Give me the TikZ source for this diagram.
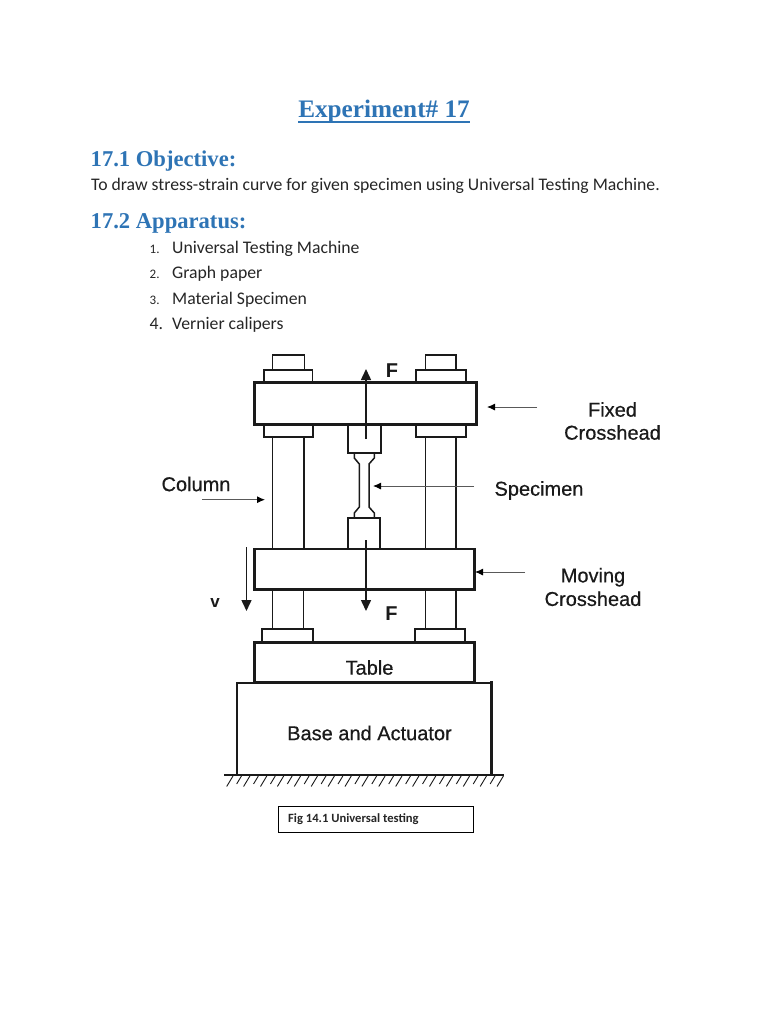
\documentclass[tikz,border=0pt]{standalone}
\usepackage{fontspec}
\setmainfont{Carlito}
\newfontfamily\headfont{Liberation Serif}
\newfontfamily\labelfont[FakeBold=0.5]{Liberation Sans}
\newfontfamily\labelbold{Liberation Sans}
\usetikzlibrary{arrows.meta}
\definecolor{headblue}{HTML}{2E74B5}
\definecolor{inkc}{HTML}{1A1A1A}
\newcommand\partbox[6]{%
  \pgfmathsetmacro\pw{#4-#2}\pgfmathsetmacro\ph{#5-#3}%
  \pgfmathsetmacro\pcx{(#4+#2)/2}\pgfmathsetmacro\pcy{(#5+#3)/2}%
  \node[part,#6,minimum width=\pw pt,minimum height=\ph pt] (#1) at (\pcx,\pcy) {};}
\tikzset{
  part/.style={draw=inkc,fill=white,inner sep=0pt,outer sep=0pt},
  heavy/.style={line width=3pt},
  medium/.style={line width=2.1pt},
  thin part/.style={line width=1.3pt},
  base part/.style={line width=1.9pt},
  edge heavy/.style={draw=inkc,line width=3pt,line cap=rect},
  column line/.style={draw=inkc,line width=1.3pt},
  pointer/.style={draw=black!65,line width=0.9pt,-{Latex[length=8pt,width=7pt,black]}},
  force/.style={draw=inkc,line width=1.5pt,-{Triangle[length=11pt,width=10pt,inkc]}},
  title text/.style={anchor=base,inner sep=0pt,text=headblue,font=\headfont\bfseries\fontsize{25.2}{28}\selectfont},
  head text/.style={anchor=base west,inner sep=0pt,text=headblue,font=\headfont\bfseries\fontsize{22.6}{26}\selectfont},
  body text/.style={anchor=base west,inner sep=0pt,text=black!85,font=\fontsize{17.7}{21}\selectfont},
  num text/.style={anchor=base west,inner sep=0pt,text=black!85,font=\fontsize{13}{16}\selectfont},
  mach label/.style={inner sep=0pt,align=center,text=inkc,font=\labelfont\fontsize{20}{23}\selectfont},
  force label/.style={inner sep=0pt,text=inkc,font=\labelbold\bfseries\fontsize{20}{22}\selectfont},
}
\begin{document}
\begin{tikzpicture}[x=1pt,y=-1pt]
\useasboundingbox[fill=white] (0,0) rectangle (768,1024);
% texts
\node[title text] (title) at (384,118) {Experiment\# 17};
\draw[headblue,line width=1.6pt] ([yshift=-4pt]title.base west) -- ([yshift=-4pt]title.base east);
\node[head text] (h1) at (90.5,167) {17.1 Objective:};
\node[body text] (obj) at (91,191) {To draw stress-strain curve for given specimen using Universal Testing Machine.};
\node[head text] (h2) at (90.5,229) {17.2 Apparatus:};
\node[num text] (n1) at (149.5,253) {1.};
\node[body text] (i1) at (172,253) {Universal Testing Machine};
\node[num text] (n2) at (149.5,278) {2.};
\node[body text] (i2) at (172,278) {Graph paper};
\node[num text] (n3) at (149.5,304) {3.};
\node[body text] (i3) at (172,304) {Material Specimen};
\node[body text] (n4) at (149.5,329) {4.};
\node[body text] (i4) at (172,329) {Vernier calipers};
% columns
\draw[column line] (272.7,436) -- (272.7,549) (304,436) -- (304,549) (425.3,436) -- (425.3,549) (456,436) -- (456,549);
\draw[column line] (272.7,589) -- (272.7,629) (303.3,589) -- (303.3,629) (425.3,589) -- (425.3,629) (456,589) -- (456,629);
% nuts
\partbox{nutTL}{272.7}{355}{304.3}{370}{thin part}
\partbox{collarTL}{264}{370}{312.7}{382.7}{thin part}
\partbox{nutTR}{425.3}{355}{456}{370}{thin part}
\partbox{collarTR}{416}{370}{466}{382.7}{medium}
\partbox{collarBL}{264}{424}{312.7}{436.7}{medium}
\partbox{collarBR}{416}{424}{466}{436.7}{medium}
% specimen
\draw[inkc,line width=1.5pt] (354.3,453) -- (354.3,458) -- (359.3,464) -- (359.3,507) -- (354.3,513) -- (354.3,518.5)
  (374.3,453) -- (374.3,458) -- (369,464) -- (369,507) -- (374.3,513) -- (374.3,518.5);
% grips
\partbox{gripU}{347.7}{424}{381}{453.3}{medium}
\partbox{gripL}{347.7}{518.3}{380.3}{549}{medium}
% crossheads
\partbox{fixedCH}{254}{382.7}{476}{424}{heavy}
\draw[inkc,line width=2.1pt] (gripU.north west) -- (gripU.south west) -- (gripU.south east) -- (gripU.north east);
\partbox{movingCH}{254}{549.3}{474.5}{589.3}{medium}
\draw[edge heavy] (movingCH.north west) -- (movingCH.south west) -- (movingCH.south east) -- (movingCH.north east);
\partbox{tableP}{254}{642}{474.7}{682.7}{heavy}
\partbox{collarLL}{262.3}{629}{312.7}{642}{medium}
\partbox{collarLR}{415}{629}{465}{642}{medium}
\partbox{baseP}{236.7}{682.7}{491.3}{774.7}{base part}
\draw[edge heavy] (baseP.north east) -- (baseP.south east);
% ground
\coordinate (gL) at (224,775); \coordinate (gR) at (504,775);
\draw[inkc,line width=1.6pt] (gL) -- (gR);
\foreach \k in {0,...,32}{
  \pgfmathsetmacro\gx{233+\k*8.45}
  \pgfmathsetmacro\gy{mod(\k,2)==0 ? 786.5 : 784}
  \pgfmathsetmacro\gz{\gx-(\gy-776)*0.6}
  \draw[inkc,line width=0.9pt] (\gx,776) -- (\gz,\gy);
}
% forces
\coordinate (fUp0) at (366,439); \coordinate (fUp1) at (366,369);
\coordinate (fDn0) at (366,540); \coordinate (fDn1) at (366,611);
\coordinate (v0) at (246.5,547); \coordinate (v1) at (246.5,611);
\draw[force] (fUp0) -- (fUp1);
\draw[force] (fDn0) -- (fDn1);
\draw[force] (v0) -- (v1);
\node[force label] (F1) at (392,371) {F};
\node[force label] (F2) at (391.5,614) {F};
\node[force label,font=\labelbold\bfseries\fontsize{17}{20}\selectfont] (vl) at (215,603) {v};
% labels
\node[mach label] (lFixed) at (612.5,421) {Fixed\\[0pt]Crosshead};
\node[mach label] (lMoving) at (593,587) {Moving\\[0.5pt]Crosshead};
\node[mach label] (lColumn) at (196,484) {Column};
\node[mach label] (lSpec) at (539,490.5) {Specimen};
\node[mach label] (lTable) at (369.5,667.5) {Table};
\node[mach label] (lBase) at (369.5,733) {Base and Actuator};
% pointers
\coordinate (pF) at (537,407); \coordinate (pF1) at (487,407);
\coordinate (pS) at (474,486); \coordinate (pS1) at (373,486);
\coordinate (pC) at (202,499.7); \coordinate (pC1) at (265,499.7);
\coordinate (pM) at (525,572); \coordinate (pM1) at (475,572);
\draw[pointer] (pF) -- (pF1);
\draw[pointer] (pS) -- (pS1);
\draw[pointer] (pC) -- (pC1);
\draw[pointer] (pM) -- (pM1);
% caption
\node[draw=black,line width=0.8pt,minimum width=194.6pt,minimum height=26pt,inner sep=0pt,outer sep=0pt] (figbox) at (376,819) {};
\node[anchor=base west,inner sep=0pt,font=\bfseries\fontsize{12.6}{15}\selectfont,text=black!85] (figcap) at (288,822.5) {Fig 14.1 Universal testing};
\end{tikzpicture}
\end{document}
